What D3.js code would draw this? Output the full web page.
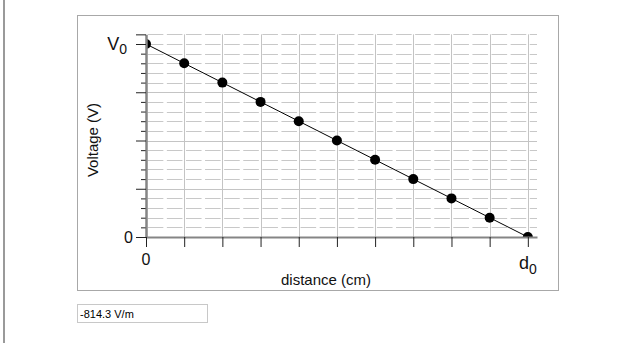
<!DOCTYPE html>
<html>
<head>
<meta charset="utf-8">
<script src="https://cdn.jsdelivr.net/npm/d3@7"></script>
<style>
  body { margin: 0; background: #fff; }
  svg { display: block; font-family: Arial, "Liberation Sans", sans-serif; }
</style>
</head>
<body>
<svg id="chart" width="622" height="343"></svg>
<script>
// data (units: fraction of d0 / V0 scaled to 10)
const distance = [0, 1, 2, 3, 4, 5, 6, 7, 8, 9, 10];
const voltage = [10, 9, 8, 7, 6, 5, 4, 3, 2, 1, 0];
const xTickValues = [0, 1, 2, 3, 4, 5, 6, 7, 8, 9, 10];
const yMajorValues = [0, 2.5, 5, 7.5, 10, 10.5];
const yMinorValues = [0.5, 1, 1.5, 2, 3, 3.5, 4, 4.5, 5.5, 6, 6.5, 7, 8, 8.5, 9, 9.5];
const yLabels = [{value: 0, main: "0", sub: ""}, {value: 10, main: "V", sub: "0"}];
const xLabels = [{value: 0, main: "0", sub: ""}, {value: 10, main: "d", sub: "0"}];
const slopeText = "-814.3 V/m";

var svg = d3.select("#chart");

// plot area
var left = 146, right = 537, bottom = 237;
var x = d3.scaleLinear().domain([0, 10.24]).range([left, right]);
var y = d3.scaleLinear().domain([0, 10.5]).range([bottom, bottom - 10.5 * 19.3]);

// page edge line on the left
svg.append("line")
    .attr("x1", 4).attr("x2", 4).attr("y1", 0).attr("y2", 343)
    .attr("stroke", "#9a9a9a").attr("stroke-width", 2);

// outer panel
svg.append("rect")
    .attr("x", 77.5).attr("y", 15.5).attr("width", 481).attr("height", 275)
    .attr("fill", "none").attr("stroke", "#a8a8a8");

// vertical grid
svg.append("g").selectAll("line")
    .data(xTickValues.slice(1)).enter().append("line")
        .attr("x1", d => Math.round(x(d)) + 0.5).attr("x2", d => Math.round(x(d)) + 0.5)
        .attr("y1", y(10.5)).attr("y2", bottom)
        .attr("stroke", "#c4c4c4");

// horizontal grid: dashed at minor steps, solid at majors
var gridVals = yMinorValues.concat([10, 10.5]);
svg.append("g").selectAll("line")
    .data(gridVals).enter().append("line")
        .attr("x1", left).attr("x2", right)
        .attr("y1", d => Math.round(y(d)) + 0.5).attr("y2", d => Math.round(y(d)) + 0.5)
        .attr("stroke", "#c8c8c8")
        .attr("stroke-dasharray", "15.6 3.5")
        .attr("stroke-dashoffset", 17.35);

svg.append("g").selectAll("line")
    .data([2.5, 5, 7.5]).enter().append("line")
        .attr("x1", left).attr("x2", right)
        .attr("y1", d => Math.round(y(d)) + 0.5).attr("y2", d => Math.round(y(d)) + 0.5)
        .attr("stroke", "#c4c4c4");

// clip for the data
svg.append("clipPath").attr("id", "plotClip")
    .append("rect")
        .attr("x", left).attr("y", y(10.5))
        .attr("width", right - left).attr("height", bottom - y(10.5));

var plot = svg.append("g").attr("clip-path", "url(#plotClip)");

var line = d3.line()
    .x((d, i) => x(distance[i]))
    .y((d, i) => y(voltage[i]));

plot.append("path")
    .datum(voltage)
    .attr("d", line)
    .attr("fill", "none")
    .attr("stroke", "#000")
    .attr("stroke-width", 1);

plot.selectAll("circle")
    .data(voltage).enter().append("circle")
        .attr("cx", (d, i) => x(distance[i]))
        .attr("cy", d => y(d))
        .attr("r", 5)
        .attr("fill", "#000");

// axes
var yMinorAxis = svg.append("g")
    .attr("transform", `translate(${left}, 0)`)
    .call(d3.axisLeft(y).tickValues(yMinorValues).tickSize(5).tickSizeOuter(0).tickFormat(""));
var yMajorAxis = svg.append("g")
    .attr("transform", `translate(${left}, 0)`)
    .call(d3.axisLeft(y).tickValues(yMajorValues).tickSize(10).tickSizeOuter(0).tickFormat(""));
var xAxis = svg.append("g")
    .attr("transform", `translate(0, ${bottom})`)
    .call(d3.axisBottom(x).tickValues(xTickValues).tickSize(10).tickSizeOuter(0).tickFormat(""));

svg.selectAll(".tick line").attr("stroke", "#222");
svg.selectAll(".domain").attr("stroke", "#858585").attr("stroke-width", 2);

// tick labels with subscripts
var yText = svg.append("g").selectAll("text")
    .data(yLabels).enter().append("text")
        .attr("x", d => d.sub ? 127 : 133)
        .attr("y", d => y(d.value) + 6)
        .attr("text-anchor", "end")
        .attr("font-size", d => d.sub ? 18 : 16)
        .attr("fill", "#111");
yText.append("tspan").text(d => d.main);
yText.append("tspan").attr("dy", 4).attr("font-size", 14).text(d => d.sub);

var xText = svg.append("g").selectAll("text")
    .data(xLabels).enter().append("text")
        .attr("x", d => x(d.value))
        .attr("y", d => d.sub ? 269 : 265)
        .attr("text-anchor", "middle")
        .attr("font-size", d => d.sub ? 18 : 16)
        .attr("fill", "#111");
xText.append("tspan").text(d => d.main);
xText.append("tspan").attr("dy", 5).attr("font-size", 14).text(d => d.sub);

// axis titles
svg.append("text")
    .attr("x", 326).attr("y", 285)
    .attr("text-anchor", "middle")
    .attr("font-size", 15)
    .attr("fill", "#111")
    .text("distance (cm)");

svg.append("text")
    .attr("transform", "rotate(-90)")
    .attr("x", -140).attr("y", 98)
    .attr("text-anchor", "middle")
    .attr("font-size", 15)
    .attr("fill", "#111")
    .text("Voltage (V)");

// slope readout box
svg.append("rect")
    .attr("x", 77.5).attr("y", 304.5).attr("width", 130).attr("height", 18)
    .attr("fill", "#fff").attr("stroke", "#c8c8c8");
svg.append("text")
    .attr("x", 80).attr("y", 317.5)
    .attr("font-size", 11)
    .attr("fill", "#000")
    .text(slopeText);
</script>
</body>
</html>
